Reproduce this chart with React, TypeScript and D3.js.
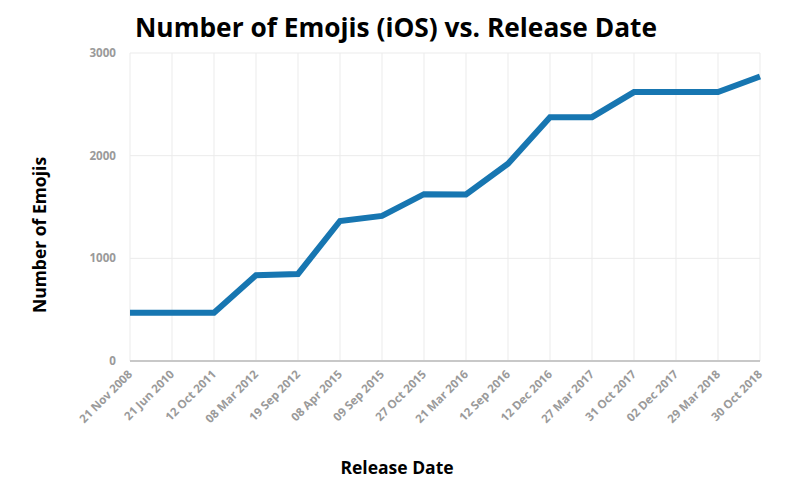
import React from 'react'
import { scalePoint, scaleLinear, line } from 'd3'

const releaseDates = [
  '21 Nov 2008', '21 Jun 2010', '12 Oct 2011', '08 Mar 2012', '19 Sep 2012',
  '08 Apr 2015', '09 Sep 2015', '27 Oct 2015', '21 Mar 2016', '12 Sep 2016',
  '12 Dec 2016', '27 Mar 2017', '31 Oct 2017', '02 Dec 2017', '29 Mar 2018',
  '30 Oct 2018'
]

const emojiCounts = [
  471, 471, 471, 835, 848, 1364, 1413, 1625, 1622, 1922,
  2375, 2375, 2619, 2619, 2619, 2771
]

const yTicks = [0, 1000, 2000, 3000]

const W = 796
const H = 502
const margin = { left: 130, right: 36, top: 53, bottom: 141 }
const font = "'Open Sans', sans-serif"

export default function App() {
  const x = scalePoint<string>()
    .domain(releaseDates)
    .range([margin.left, W - margin.right])

  const y = scaleLinear()
    .domain([0, 3000])
    .range([H - margin.bottom, margin.top])

  const path = line<number>()
    .x((_, i) => x(releaseDates[i]) ?? 0)
    .y(d => y(d))(emojiCounts)

  const base = y(0)

  return (
    <svg width={W} height={H} style={{ position: 'absolute', left: 0, top: 0, background: '#fff' }}>
      <text x={396} y={37} textAnchor='middle' fontFamily={font} fontWeight={700} fontSize={26.3} fill='#000'>
        Number of Emojis (iOS) vs. Release Date
      </text>

      {/* grid */}
      <g>
        {yTicks.map(t => (
          <line key={t} x1={margin.left} x2={W - margin.right} y1={y(t)} y2={y(t)} stroke='#ebebeb' strokeWidth={1} />
        ))}
        {releaseDates.map(d => (
          <line key={d} x1={x(d)} x2={x(d)} y1={margin.top} y2={base} stroke='#ebebeb' strokeWidth={1} />
        ))}
      </g>

      <line x1={margin.left} x2={W - margin.right} y1={base} y2={base} stroke='#c8c8c8' strokeWidth={2} />

      {yTicks.map(t => (
        <text key={t} x={116} y={y(t)} dy='0.35em' textAnchor='end' fontFamily={font} fontWeight={700} fontSize={11.6} fill='#9a9a9a'>
          {t}
        </text>
      ))}

      {releaseDates.map(d => (
        <text
          key={d}
          transform={`translate(${(x(d) ?? 0) + 3},${base + 14}) rotate(-45)`}
          textAnchor='end'
          fontFamily={font}
          fontWeight={700}
          fontSize={11.6}
          fill='#9a9a9a'
        >
          {d}
        </text>
      ))}

      <path d={path ?? ''} fill='none' stroke='#1776b1' strokeWidth={6} strokeLinejoin='miter' />

      <text x={397} y={474} textAnchor='middle' fontFamily={font} fontWeight={700} fontSize={17.5} fill='#000'>
        Release Date
      </text>
      <text transform='translate(46,235) rotate(-90)' textAnchor='middle' fontFamily={font} fontWeight={700} fontSize={17.5} fill='#000'>
        Number of Emojis
      </text>
    </svg>
  )
}
